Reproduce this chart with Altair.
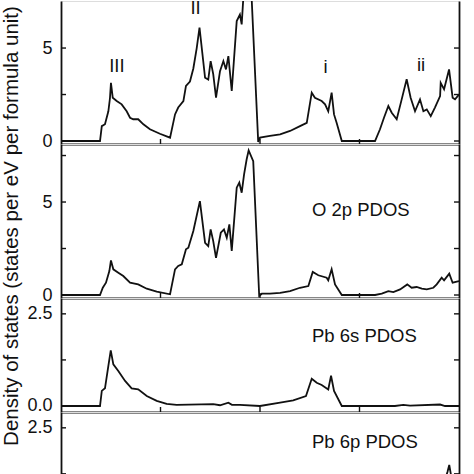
import altair as alt
import pandas as pd

FONT = "Liberation Sans"
INK = "#111111"
W = 398  # common plot width of the stacked panels

# energy axis (eV)
E_DOMAIN = [-10, 10]
E_TICKS = [-5, 0, 5]

# total density of states
tot_e = [-10.0, -8.04, -7.95, -7.79, -7.62, -7.54, -7.49, -7.40, -7.20, -6.95,
         -6.70, -6.53, -6.37, -6.12, -5.86, -5.53, -5.03, -4.52, -4.27, -4.11,
         -3.85, -3.72, -3.52, -3.35, -3.18, -3.04, -2.76, -2.60, -2.48, -2.35,
         -2.21, -2.01, -1.84, -1.71, -1.59, -1.42, -1.17, -1.01, -0.92, -0.78,
         -0.60, -0.45, -0.09, 0.0, 0.50, 1.01, 1.51, 2.01, 2.35, 2.60,
         2.76, 3.10, 3.27, 3.43, 3.60, 3.72, 3.85, 4.11, 5.78, 6.03,
         6.23, 6.45, 6.62, 6.87, 7.12, 7.37, 7.57, 7.79, 8.04, 8.21,
         8.38, 8.58, 8.79, 9.05, 9.08, 9.25, 9.50, 9.68, 9.80, 10.0]
tot_d = [0, 0, 0.8, 0.9, 1.6, 2.3, 3.13, 2.33, 2.15, 1.97,
         1.6, 1.25, 1.17, 1.17, 0.9, 0.63, 0.39, 0.18, 1.43, 1.8,
         2.15, 2.96, 3.2, 3.9, 5.0, 6.1, 3.4, 3.3, 4.3, 3.6,
         2.33, 3.76, 4.3, 3.85, 4.57, 2.69, 6.45, 6.8, 6.27, 8.7,
         9.0, 8.4, -0.05, 0.18, 0.27, 0.36, 0.54, 0.8, 0.98, 2.6,
         2.33, 2.15, 1.97, 1.6, 2.6, 1.43, 0.98, 0, 0, 0.63,
         1.25, 1.88, 1.52, 1.17, 2.24, 3.32, 2.33, 1.6, 2.24, 1.6,
         1.7, 1.34, 1.8, 2.42, 3.13, 2.78, 3.85, 2.33, 2.24, 2.5]

# O 2p partial DOS
o2p_e = [-10.0, -8.04, -7.90, -7.74, -7.57, -7.49, -7.37, -7.12, -6.87, -6.53,
         -6.12, -5.69, -5.19, -4.52, -4.27, -4.11, -3.93, -3.72, -3.60, -3.35,
         -3.02, -2.76, -2.60, -2.48, -2.35, -2.21, -1.97, -1.81, -1.67, -1.54,
         -1.42, -1.17, -1.04, -0.92, -0.80, -0.67, -0.57, -0.34, -0.04, 0.09,
         0.50, 1.01, 1.51, 2.01, 2.43, 2.65, 2.93, 3.35, 3.43, 3.60,
         3.77, 4.11, 5.78, 6.12, 6.45, 6.70, 7.04, 7.40, 7.62, 7.87,
         8.13, 8.38, 8.71, 8.88, 9.13, 9.25, 9.51, 9.68, 10.0]
o2p_d = [0, 0, 0.39, 0.66, 1.29, 1.86, 1.38, 1.2, 1.02, 0.66,
         0.57, 0.34, 0.18, 0.04, 1.38, 1.56, 1.65, 2.46, 2.54, 3.44,
         5.05, 2.81, 2.63, 3.53, 2.9, 2.0, 3.35, 3.53, 3.08, 3.8,
         2.37, 5.77, 6.04, 5.5, 6.49, 7.3, 7.78, 7.2, -0.05, 0.07,
         0.07, 0.12, 0.21, 0.39, 0.48, 1.24, 1.06, 0.93, 0.79, 1.38,
         0.57, 0, 0, 0.07, 0.21, 0.16, 0.3, 0.57, 0.39, 0.43,
         0.34, 0.3, 0.39, 0.57, 0.93, 0.79, 1.15, 0.66, 0.75]

# Pb 6s partial DOS
pb6s_e = [-10.0, -8.04, -7.95, -7.79, -7.62, -7.50, -7.37, -7.12, -6.78, -6.45,
          -6.12, -5.69, -5.19, -4.69, -4.19, -2.35, -2.01, -1.59, -1.41, -1.01,
          0.0, 1.01, 1.67, 2.31, 2.60, 2.85, 3.10, 3.43, 3.57, 3.72,
          4.11, 6.78, 7.20, 7.54, 9.05, 9.30, 10.0]
pb6s_d = [0, 0, 0.41, 0.48, 1.09, 1.51, 1.13, 0.95, 0.68, 0.48,
          0.45, 0.27, 0.14, 0.06, 0.03, 0.05, 0.02, 0.09, 0.03, 0.03,
          0.0, 0.09, 0.15, 0.27, 0.74, 0.63, 0.57, 0.45, 0.82, 0.41,
          0, 0, 0.03, 0.01, 0.04, 0.0, 0.0]

# Pb 6p partial DOS
pb6p_e = [-10.0, -8.04, -7.5, -6.0, -4.3, -3.0, -1.5, -0.5, 0.0, 2.6,
          3.6, 4.11, 5.78, 6.45, 7.37, 8.04, 9.05, 9.25, 9.42, 9.51,
          9.62, 9.8, 10.0]
pb6p_d = [0, 0, 0.15, 0.1, 0.05, 0.2, 0.25, 0.3, 0.05, 0.35,
          0.4, 0, 0, 0.55, 0.9, 0.75, 1.05, 1.0, 1.3, 1.49,
          1.15, 0.95, 1.0]

# band labels in the total DOS panel
band_names = ["III", "II", "i", "ii"]
band_e = [-7.19, -3.24, 3.29, 8.09]
band_v = [3.71, 6.83, 3.66, 3.76]

Y_TITLE = "Density of states (states per eV per formula unit)"

xs = alt.Scale(domain=E_DOMAIN, nice=False, zero=False)


def panel(energy, dos, ydom, height, tick_vals, label_vals, fmt,
          name=None, name_e=2.61, name_v=0.0, bottom=True, extra=()):
    ys = alt.Scale(domain=ydom, nice=False, zero=False)
    curve = pd.DataFrame({"E": energy, "DOS": dos})
    if bottom:
        xaxis = alt.Axis(orient="bottom", ticks=False, labels=False, grid=False,
                         title=None, domainColor=INK, domainWidth=1.8, minExtent=0)
    else:
        xaxis = None
    line = alt.Chart(curve).mark_line(color=INK, strokeWidth=1.8, clip=True).encode(
        x=alt.X("E:Q", scale=xs, axis=xaxis),
        y=alt.Y("DOS:Q", scale=ys,
                axis=alt.Axis(orient="left", values=label_vals, format=fmt,
                              ticks=False, tickSize=0, labelPadding=9,
                              labelFont=FONT, labelFontSize=18, labelColor=INK,
                              domainColor=INK, domainWidth=1.8, grid=False,
                              title=None)),
    )
    yt = pd.DataFrame({"v": tick_vals})
    left_ticks = alt.Chart(yt).mark_rule(color=INK, strokeWidth=1.4).encode(
        y=alt.Y("v:Q", scale=ys, axis=None), x=alt.value(0), x2=alt.value(5))
    right_ticks = alt.Chart(yt).mark_rule(color=INK, strokeWidth=1.4).encode(
        y=alt.Y("v:Q", scale=ys,
                axis=alt.Axis(orient="right", labels=False, ticks=False, grid=False,
                              title=None, domainColor=INK, domainWidth=1.8,
                              minExtent=0)),
        x=alt.value(W), x2=alt.value(W - 5))
    layers = [line, left_ticks, right_ticks]
    if bottom:
        bt = pd.DataFrame({"e": E_TICKS})
        layers.append(alt.Chart(bt).mark_rule(color=INK, strokeWidth=1.4).encode(
            x=alt.X("e:Q", scale=xs, axis=None),
            y=alt.value(height), y2=alt.value(height - 5)))
    if name:
        nd = pd.DataFrame({"t": [name], "E": [name_e], "v": [name_v]})
        layers.append(alt.Chart(nd).mark_text(
            align="left", baseline="alphabetic", font=FONT, fontSize=18.5,
            color=INK, clip=True).encode(
            x=alt.X("E:Q", scale=xs, axis=None),
            y=alt.Y("v:Q", scale=ys, axis=None), text="t:N"))
    for make in extra:
        layers.append(make(ys))
    return alt.layer(*layers).resolve_axis(x="independent", y="independent").properties(
        width=W, height=height)


def band_labels(ys):
    bd = pd.DataFrame({"t": band_names, "E": band_e, "v": band_v})
    return alt.Chart(bd).mark_text(
        align="center", baseline="alphabetic", font=FONT, fontSize=18.5,
        color=INK, clip=True).encode(
        x=alt.X("E:Q", scale=xs, axis=None),
        y=alt.Y("v:Q", scale=ys, axis=None), text="t:N")


def y_title(ys):
    td = pd.DataFrame({"t": [Y_TITLE]})
    return alt.Chart(td).mark_text(
        align="center", baseline="middle", angle=270, font=FONT, fontSize=20.5,
        color=INK).encode(x=alt.value(-49.5), y=alt.value(82), text="t:N")


p_total = panel(tot_e, tot_d, [-0.161, 7.53], 143, [0, 2.5, 5], [0, 5], ".0f",
                extra=(band_labels,))
p_o2p = panel(o2p_e, o2p_d, [-0.161, 8.12], 154, [0, 2.5, 5, 7.5], [0, 5], ".0f",
              name="O 2p PDOS", name_v=4.25, extra=(y_title,))
p_pb6s = panel(pb6s_e, pb6s_d, [-0.163, 2.93], 114, [0, 1.25, 2.5], [0, 2.5], ".1f",
               name="Pb 6s PDOS", name_v=1.74)
p_pb6p = panel(pb6p_e, pb6p_d, [1.218, 2.93], 63, [1.25, 2.5], [2.5], ".1f",
               name="Pb 6p PDOS", name_v=1.95, bottom=False)

chart = alt.vconcat(p_total, p_o2p, p_pb6s, p_pb6p, spacing=0, bounds="flush").resolve_scale(
    x="independent", y="independent"
).properties(
    padding={"left": 0, "top": 0, "right": 0, "bottom": 0}
).configure_view(stroke="transparent").configure(background="white")

chart.save("out.html", embed_options={"renderer": "svg", "actions": False})
